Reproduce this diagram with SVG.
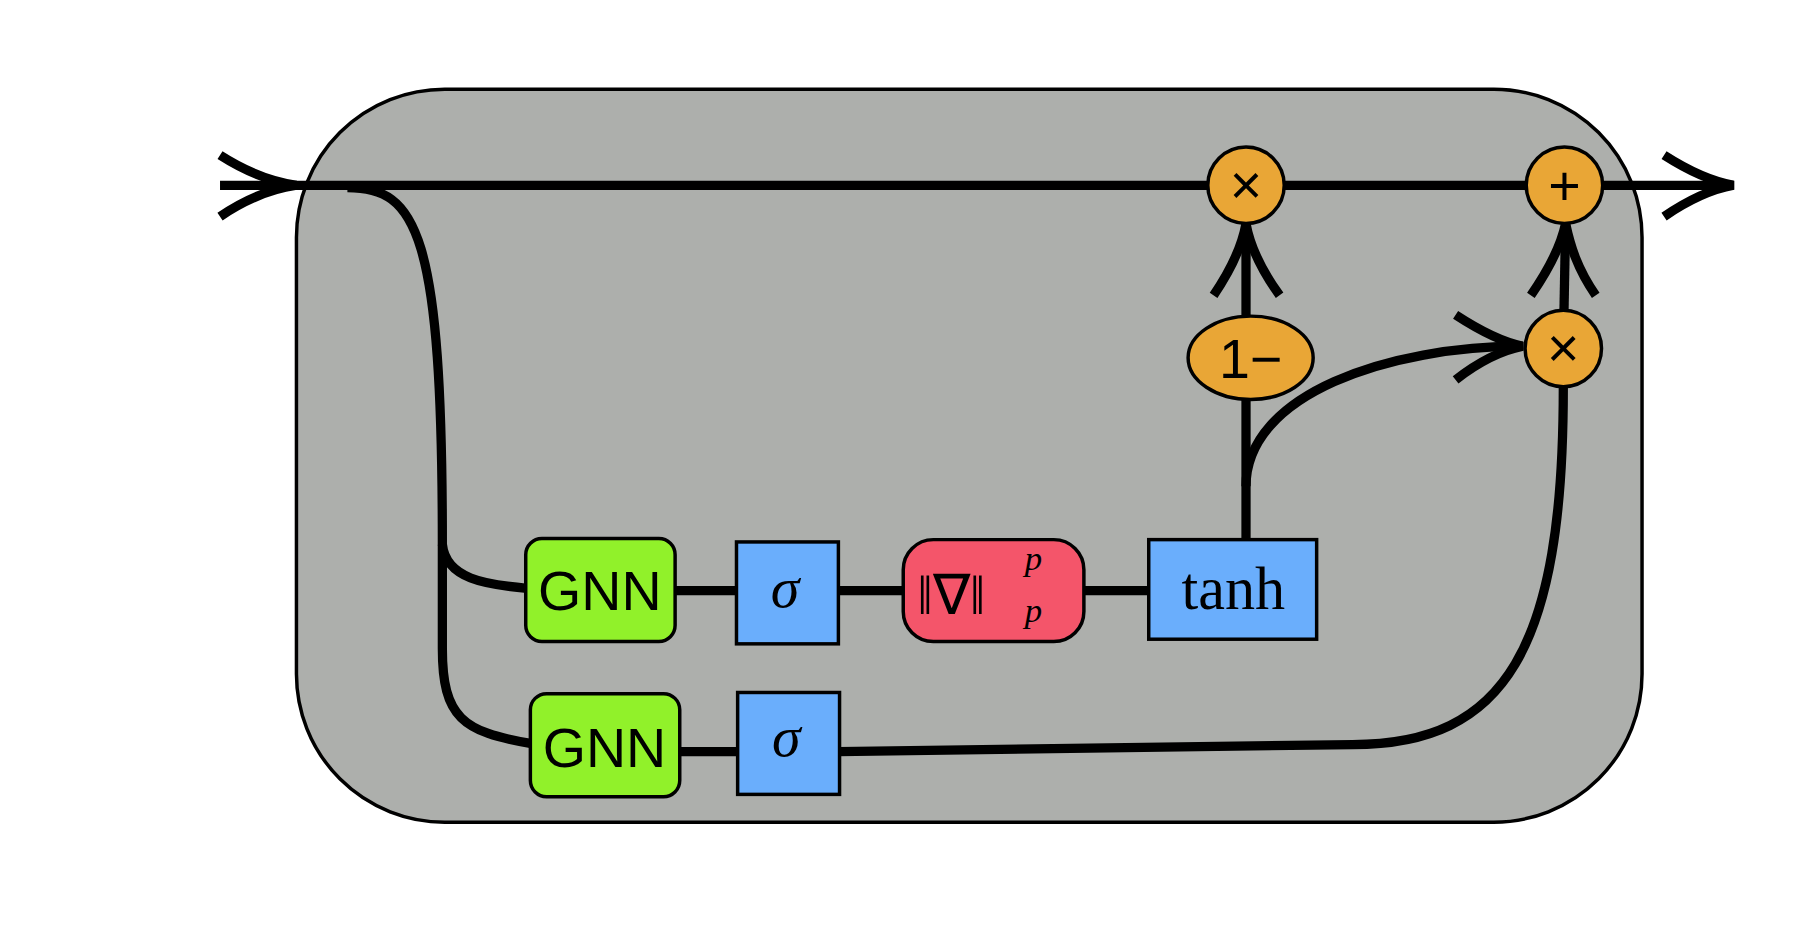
<svg xmlns="http://www.w3.org/2000/svg" width="1816" height="940" viewBox="0 0 1816 940">
<style>
.w{fill:none;stroke:#000;stroke-width:8}
.n{stroke:#000;stroke-width:3}
.g{fill:#91f12a}.b{fill:#6aaefc}.r{fill:#f4556a}.o{fill:#e9a636}
.t{font-family:"Liberation Sans",sans-serif;font-size:48px;text-anchor:middle}
.s{font-family:"Liberation Serif",serif;font-style:italic;font-size:50px;text-anchor:middle}
</style>
<rect width="1816" height="940" fill="#fff"/>
<g transform="scale(1.158)">
<rect id="cell" x="256" y="77" width="1162" height="633" rx="128" fill="#adafac" stroke="#000" stroke-width="3"/>
<g id="connectors">
<path class="w" d="M190,160H1497"/>
<path class="w" d="M190,134C215,150 235,157 256,160C235,163 215,170 190,187"/>
<path class="w" d="M1437,134C1462,150 1480,157 1497,160C1480,163 1462,170 1437,187"/>
<path class="w" d="M300,162C360,162 382,200 382,470V560C382,620 400,632 458,642"/>
<path class="w" d="M382,470C385,500 420,505 455,508"/>
<path class="w" d="M583,510H636M724,510H780M936,510H992M587,649H637"/>
<path class="w" d="M1076,466V193"/>
<path class="w" d="M1048,255C1065,230 1073,210 1076,193C1079,210 1087,230 1105,255"/>
<path class="w" d="M1076,420C1076,340 1200,299 1315,299"/>
<path class="w" d="M1257,272C1280,287 1300,296 1315,299C1300,302 1280,310 1257,328"/>
<path class="w" d="M1350,300L1352,193"/>
<path class="w" d="M1322,255C1338,232 1348,212 1352,193C1356,212 1362,232 1378,255"/>
<path class="w" d="M724,649L1168,643C1300,643 1350,560 1350,335"/>
</g>
<g id="mul1"><circle class="n o" cx="1076" cy="160" r="33"/><text class="t" x="1076" y="176">×</text></g>
<g id="add"><circle class="n o" cx="1351" cy="160" r="33"/><text class="t" x="1351" y="177">+</text></g>
<g id="mul2"><circle class="n o" cx="1350" cy="301" r="33"/><text class="t" x="1350" y="317">×</text></g>
<g id="oneminus"><ellipse class="n o" cx="1080" cy="309" rx="54" ry="36"/><text class="t" x="1080" y="326">1−</text></g>
<g id="gnn1"><rect class="n g" x="454" y="465" width="129" height="89" rx="14"/><text class="t" x="518" y="527">GNN</text></g>
<g id="sig1"><rect class="n b" x="636" y="468" width="88" height="88"/><text class="s" x="678" y="524">σ</text></g>
<g id="norm"><rect class="n r" x="780" y="466" width="156" height="88" rx="26"/><text font-family="Liberation Serif,serif" font-size="48" x="792" y="530">‖∇‖</text><text font-family="Liberation Serif,serif" font-style="italic" font-size="30" x="885" y="492">p</text><text font-family="Liberation Serif,serif" font-style="italic" font-size="30" x="885" y="537">p</text></g>
<g id="tanh"><rect class="n b" x="992" y="466" width="145" height="86"/><text font-family="Liberation Serif,serif" font-size="52" text-anchor="middle" x="1065" y="526">tanh</text></g>
<g id="gnn2"><rect class="n g" x="458" y="599" width="129" height="89" rx="14"/><text class="t" x="522" y="662">GNN</text></g>
<g id="sig2"><rect class="n b" x="637" y="598" width="88" height="88"/><text class="s" x="679" y="653">σ</text></g>
</g>
</svg>
